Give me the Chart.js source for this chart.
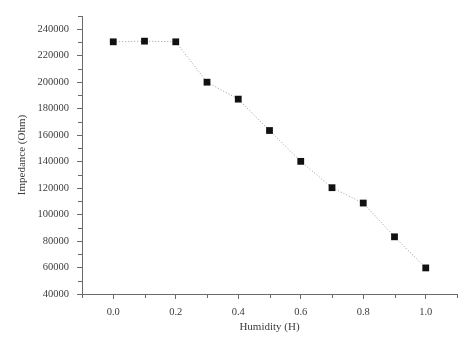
<!DOCTYPE html>
<html>
<head>
<meta charset="utf-8">
<script src="https://cdn.jsdelivr.net/npm/chart.js@4"></script>
<style>
  html, body { margin: 0; padding: 0; background: #fff; }
  #wrap { width: 474px; height: 351px; }
</style>
</head>
<body>
<div id="wrap"><canvas id="impedanceChart"></canvas></div>
<script>
// values
const humidity = [0.0, 0.1, 0.2, 0.3, 0.4, 0.5, 0.6, 0.7, 0.8, 0.9, 1.0];
const impedance = [230500, 231000, 230500, 200000, 187200, 163500, 140200, 120300, 108700, 83200, 59700];

const xTicks = [0.0, 0.2, 0.4, 0.6, 0.8, 1.0];
const xMinorTicks = [-0.1, 0.1, 0.3, 0.5, 0.7, 0.9, 1.1];
const yTicks = [40000, 60000, 80000, 100000, 120000, 140000, 160000, 180000, 200000, 220000, 240000];
const yMinorTicks = [50000, 70000, 90000, 110000, 130000, 150000, 170000, 190000, 210000, 230000, 250000];

const axisColor = '#6a6a6a';
const textColor = '#3c3c3c';

// small tick marks between the labelled ones
const minorTicks = {
    id: 'minorTicks',
    afterDraw(chart) {
        const ctx = chart.ctx;
        const x = chart.scales.x;
        const y = chart.scales.y;
        ctx.save();
        ctx.strokeStyle = axisColor;
        ctx.lineWidth = 1;
        ctx.beginPath();
        xMinorTicks.forEach(v => {
            const px = Math.round(x.getPixelForValue(v)) + 0.5;
            ctx.moveTo(px, y.bottom);
            ctx.lineTo(px, y.bottom + 4);
        });
        yMinorTicks.forEach(v => {
            const py = Math.round(y.getPixelForValue(v)) + 0.5;
            ctx.moveTo(x.left, py);
            ctx.lineTo(x.left - 4, py);
        });
        ctx.stroke();
        ctx.restore();
    }
};

new Chart(document.getElementById('impedanceChart'), {
    type: 'line',
    data: {
        datasets: [{
            data: humidity.map((h, i) => ({ x: h, y: impedance[i] })),
            borderColor: '#9a9a9a',
            borderWidth: 1,
            borderDash: [1, 2],
            pointStyle: 'rect',
            pointRadius: 4.8,
            pointBackgroundColor: '#111',
            pointBorderColor: '#111',
            pointBorderWidth: 0,
            tension: 0
        }]
    },
    options: {
        responsive: true,
        maintainAspectRatio: false,
        animation: false,
        layout: {
            padding: { left: 0, right: 17, top: 16, bottom: 0 }
        },
        plugins: {
            legend: { display: false },
            tooltip: { enabled: false }
        },
        scales: {
            x: {
                type: 'linear',
                min: -0.1,
                max: 1.1,
                afterBuildTicks: scale => {
                    scale.ticks = xTicks.map(v => ({ value: v }));
                },
                afterFit: scale => {
                    scale.height = 57;
                },
                grid: {
                    drawOnChartArea: false,
                    color: axisColor,
                    tickLength: 5
                },
                border: { color: axisColor },
                ticks: {
                    color: textColor,
                    padding: 7,
                    font: { family: 'Liberation Serif', size: 10.5 },
                    callback: v => v.toFixed(1)
                },
                title: {
                    display: true,
                    text: 'Humidity (H)',
                    color: textColor,
                    font: { family: 'Liberation Serif', size: 11 },
                    padding: { top: 0, bottom: 17 }
                }
            },
            y: {
                type: 'linear',
                min: 40000,
                max: 250000,
                afterBuildTicks: scale => {
                    scale.ticks = yTicks.map(v => ({ value: v }));
                },
                afterFit: scale => {
                    scale.width = 82;
                },
                grid: {
                    drawOnChartArea: false,
                    color: axisColor,
                    tickLength: 5
                },
                border: { color: axisColor },
                ticks: {
                    color: textColor,
                    padding: 8,
                    font: { family: 'Liberation Serif', size: 10.5 },
                    callback: v => String(v)
                },
                title: {
                    display: true,
                    text: 'Impedance (Ohm)',
                    color: textColor,
                    font: { family: 'Liberation Serif', size: 11 },
                    padding: { top: 16, bottom: 0 }
                }
            }
        }
    },
    plugins: [minorTicks]
});
</script>
</body>
</html>
